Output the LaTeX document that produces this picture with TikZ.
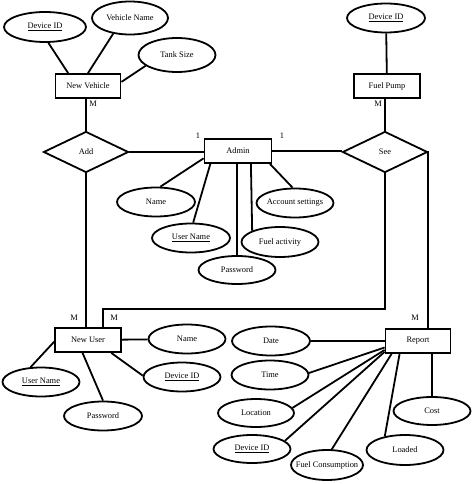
\documentclass[tikz,border=0pt]{standalone}
\usepackage{fontspec}
\setmainfont{Liberation Serif}
\usepackage{tikz}
\usetikzlibrary{shapes.geometric}
\newcommand{\erfont}{\fontsize{8.4}{10}\selectfont}
\tikzset{
    %Define style for entity boxes
    entity/.style={
           rectangle,
           draw=black, line width=1.8pt,
           minimum width=65pt,
           minimum height=24pt,
           inner sep=0pt,
           font=\erfont,
           text centered},
    %Define style for attribute ellipses
    attribute/.style={
           ellipse,
           draw=black, line width=1.8pt,
           minimum width=77pt,
           minimum height=29pt,
           inner xsep=-10pt,
           inner ysep=0pt,
           font=\erfont,
           text centered},
    %Define style for relation diamonds
    relation/.style={
           diamond,
           draw=black, line width=1.8pt,
           minimum width=85pt,
           minimum height=41pt,
           inner sep=0pt,
           font=\erfont,
           text centered},
    %Define style for cardinality marks
    card/.style={
           inner sep=0pt,
           font=\erfont}
}
\begin{document}
\begin{tikzpicture}[x=1pt,y=-1pt,line width=1.8pt]
\useasboundingbox (0,0) rectangle (474,484);
% entities and relations
\node[entity](vehicle) at (88,86) {New Vehicle};
\node[entity, minimum width=66pt](pump) at (387,86) {Fuel Pump};
\node[entity, minimum width=67pt](admin) at (238,151) {Admin};
\node[entity, minimum width=66pt](user) at (88,340) {New User};
\node[entity](report) at (418,341) {Report};
\node[relation](add) at (86,152) {Add};
\node[relation](see) at (385,152) {See};
% attributes
\node[attribute, minimum width=82pt, minimum height=30pt](vehicleid) at (45,27) {\underline{Device ID}};
\node[attribute, minimum width=76pt, minimum height=33pt](vehiclename) at (130,18) {Vehicle Name};
\node[attribute, minimum height=34pt](tanksize) at (177,55) {Tank Size};
\node[attribute, minimum width=78pt](pumpid) at (386,18) {\underline{Device ID}};
\node[attribute, minimum width=78pt](adminname) at (156,202) {Name};
\node[attribute, minimum width=78pt](adminuser) at (191,238) {\underline{User Name}};
\node[attribute, minimum height=28pt](adminpw) at (237,270) {Password};
\node[attribute, minimum height=30pt](fuelact) at (280,242) {Fuel activity};
\node[attribute](account) at (295,203) {Account settings};
\node[attribute](username) at (187,339) {Name};
\node[attribute](userlogin) at (41,382) {\underline{User Name}};
\node[attribute](userid) at (182,377) {\underline{Device ID}};
\node[attribute, minimum width=78pt](userpw) at (103,416) {Password};
\node[attribute, minimum width=78pt](date) at (271,341) {Date};
\node[attribute](time) at (270,375) {Time};
\node[attribute, minimum width=76pt, minimum height=28pt](location) at (256,413) {Location};
\node[attribute, minimum height=28pt](reportid) at (252,449) {\underline{Device ID}};
\node[attribute, minimum width=72pt, minimum height=30pt](fuelcons) at (327,465) {Fuel Consumption};
\node[attribute, minimum height=30pt](loaded) at (405,450) {Loaded};
\node[attribute, minimum height=28pt](cost) at (432,411) {Cost};
% cardinalities
\node[card](mvehicle) at (93,104) {M};
\node[card](mpump) at (378,104) {M};
\node[card](oneadd) at (198,136) {1};
\node[card](onesee) at (282,136) {1};
\node[card](museradd) at (74,318) {M};
\node[card](musersee) at (114,318) {M};
\node[card](mreport) at (415,318) {M};
\coordinate (elbow) at (103,309);
\coordinate (drop) at (428,152);
\path[]
	(vehicleid.282) edge (vehicle.147)
	(vehiclename.223) edge (vehicle.north)
	(tanksize.199) edge (vehicle.7)
	(pumpid) edge (pump)
	(add.north) edge (add.north |- vehicle.south)
	(add.east) edge (add.east -| admin.west)
	(admin.east) edge (admin.east -| see.west)
	(see.north) edge (see.north |- pump.south)
	(add.south) edge (add.south |- user.north);
\draw (see.south) |- (elbow) -- (elbow |- user.north);
\draw (see.east) -- (drop) -- (drop |- report.north);
\path[]
	(adminname.74) edge (admin.192)
	(adminuser.82) edge (admin.205)
	(adminpw.north) edge (adminpw.north |- admin.south)
	(fuelact.158) edge (admin.315)
	(account.99) edge (admin.338);
\path[]
	(user) edge (username)
	(userlogin.125) edge (user.183)
	(userpw.north) edge (user.247)
	(userid.178) edge (user.331);
\path[]
	(date) edge (report)
	(time.3) edge (report.191)
	(location.8) edge (report.195)
	(reportid.14) edge (report.198)
	(fuelcons.73) edge (report.206)
	(loaded.146) edge (report.215)
	(cost.north) edge (cost.north |- report.south);
\end{tikzpicture}
\end{document}
